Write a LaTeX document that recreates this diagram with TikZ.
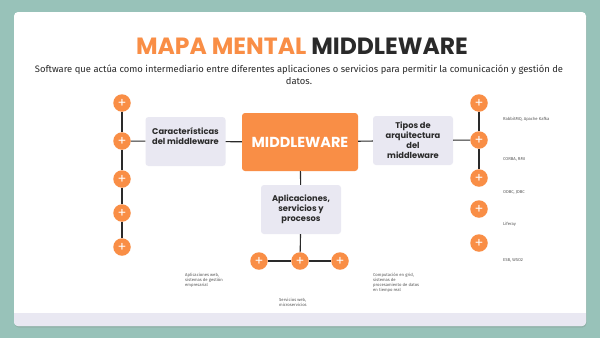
\documentclass[tikz,border=0pt]{standalone}
\usepackage{fontspec}
\setmainfont{Fira Sans}
\newfontfamily\popfont{Poppins}
\usetikzlibrary{positioning, shadows}
\definecolor{mapteal}{HTML}{98C2B9}
\definecolor{maporange}{HTML}{F98E46}
\definecolor{mapgray}{HTML}{E9E8F2}
\definecolor{mapink}{HTML}{2A2A2A}

\tikzset{
  topic/.style={fill=mapgray, rounded corners=3pt, minimum width=80pt, minimum height=49pt,
    align=center, inner sep=0pt, text=mapink,
    font=\popfont\bfseries\fontsize{8.3}{10}\selectfont},
  plusdot/.style={circle, fill=maporange, minimum size=17.5pt, inner sep=0pt, text=white,
    font=\popfont\fontsize{13}{13}\selectfont},
  leaf/.style={inner sep=0pt, align=left, text=mapink!80,
    font=\fontsize{4.2}{5}\selectfont},
  link/.style={line width=1.1pt, mapink}
}

\begin{document}
\begin{tikzpicture}[x=1pt, y=-1pt]
  \useasboundingbox (0,0) rectangle (600,338);
  \fill[mapteal] (0,0) rectangle (600,338);
  \fill[white, rounded corners=4pt, drop shadow={opacity=0.25, shadow xshift=0.5pt, shadow yshift=-1.5pt}]
    (14,12) rectangle (586,326);
  \begin{scope}
    \clip[rounded corners=4pt] (14,12) rectangle (586,326);
    \fill[mapgray] (14,313) rectangle (586,326);
  \end{scope}

  \node[font=\popfont\bfseries\fontsize{23.5}{24}\selectfont] (title) at (302,46)
    {\textcolor{maporange}{MAPA MENTAL} \textcolor{mapink}{MIDDLEWARE}};
  \node[align=center, text=mapink, font=\fontsize{9.4}{12}\selectfont] (sub) at (299,75)
    {Software que actúa como intermediario entre diferentes aplicaciones o servicios para permitir la comunicación y gestión de\\datos.};

  \node[fill=maporange, rounded corners=3pt, minimum width=116pt, minimum height=58pt, text=white,
        font=\popfont\bfseries\fontsize{14.5}{15}\selectfont] (mid) at (300,142) {MIDDLEWARE};
  \node[topic] (cara) at (185.5,141.5) {Características\\del middleware\\[0pt]};
  \node[topic] (tipo) at (413,140.5) {Tipos de\\arquitectura\\del\\middleware};
  \node[topic] (apli) at (301,209.5) {Aplicaciones,\\servicios y\\procesos};

  \foreach \n/\y in {1/103, 2/141, 3/179, 4/213, 5/247}{
    \node[plusdot] (l\n) at (122,\y) {+};
  }
  \foreach \n/\y in {1/103, 2/140, 3/178, 4/209, 5/243}{
    \node[plusdot] (r\n) at (479,\y) {+};
  }
  \foreach \n/\x in {1/259, 2/300, 3/340}{
    \node[plusdot] (b\n) at (\x,261) {+};
  }

  \draw[link] (l1) -- (l2) (l2) -- (l3) (l3) -- (l4) (l4) -- (l5);
  \draw[link] (r1) -- (r2) (r2) -- (r3);
  \draw[link] (b1) -- (b2) (b2) -- (b3);
  \draw[link] (l2) -- (cara) (cara) -- (mid) (mid) -- (tipo) (tipo) -- (r2);
  \draw[link] (mid) -- (apli) (apli) -- (b2);

  \node[leaf, anchor=west] (k1) at (503,119) {RabbitMQ, Apache Kafka};
  \node[leaf, anchor=west] (k2) at (503,159) {CORBA, RMI};
  \node[leaf, anchor=west] (k3) at (503,192) {ODBC, JDBC};
  \node[leaf, anchor=west] (k4) at (503,224) {Liferay};
  \node[leaf, anchor=west] (k5) at (503,260) {ESB, WSO2};

  \node[leaf, anchor=north west] (m1) at (185,273) {Aplicaciones web,\\sistemas de gestión\\empresarial};
  \node[leaf, anchor=north west] (m2) at (279,298) {Servicios web,\\microservicios};
  \node[leaf, anchor=north west] (m3) at (373,273) {Computación en grid,\\sistemas de\\procesamiento de datos\\en tiempo real};
\end{tikzpicture}
\end{document}
